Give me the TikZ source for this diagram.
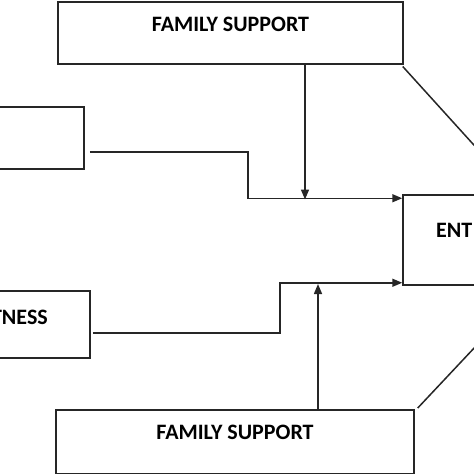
\documentclass[tikz,border=0pt]{standalone}
\usepackage{fontspec}
\setmainfont{Carlito}
\usetikzlibrary{arrows.meta,positioning,calc}

\begin{document}
\begin{tikzpicture}[x=1pt,y=-1pt,>={Triangle[length=10pt,width=8pt]}, every node/.style={font=\fontsize{22}{26}\selectfont\bfseries}]
\tikzstyle{box}=[draw=black!85,line width=1.5pt,inner sep=0pt,align=center]
\tikzstyle{link}=[draw=black!85,line width=1.5pt]
\useasboundingbox (0,0) rectangle (474,474);
\clip (0,0) rectangle (474,474);
% boxes
\node[box,anchor=north,minimum width=345pt,text height=30pt,text depth=32pt] (famtop) at (230.5,1) {FAMILY SUPPORT};
\node[box,anchor=north,minimum width=358pt,text height=30pt,text depth=34pt] (fambot) at (235,409) {FAMILY SUPPORT};
\node[box,minimum width=144pt,minimum height=62pt] (inone) at (12,138) {};
\node[box,minimum width=150pt,minimum height=67pt] (intwo) at (15,324.5) {};
\node[box,minimum width=140pt,minimum height=90pt] (ent) at (473,240) {};
\node[anchor=east,inner sep=0pt] (lbltwo) at (48,317) {TNESS};
\node[anchor=west,inner sep=0pt] (lblent) at (436,230) {ENT};
% free ends to the right
\coordinate (outtop) at (492,165);
\coordinate (outbot) at (492,329);
% connectors
\draw[link,->] ([xshift=5pt,yshift=-14pt]inone.east) -- ++(158,0) |- ([yshift=-4pt]ent.north west);
\draw[link,->] ([xshift=2pt,yshift=-8.5pt]intwo.east) -- ++(187,0) |- ([yshift=3pt]ent.south west);
\draw[link,->] ([xshift=74.5pt]famtop.south) -- ++(0,135);
\draw[link,->] ([xshift=83pt]fambot.north) -- ++(0,-125);
\draw[link] ([xshift=-1pt,yshift=-2pt]famtop.south east) -- (outtop);
\draw[link] ([xshift=3pt,yshift=1pt]fambot.north east) -- (outbot);
\end{tikzpicture}
\end{document}
